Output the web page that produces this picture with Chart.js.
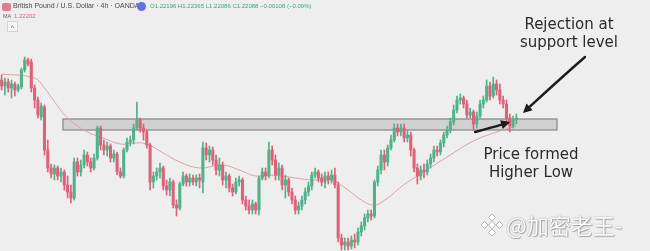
<!DOCTYPE html>
<html>
<head>
<meta charset="utf-8">
<script src="https://cdn.jsdelivr.net/npm/chart.js@4.4.1/dist/chart.umd.min.js"></script>
<style>
  html, body { margin:0; padding:0; background:#eeeeee; }
  #wrap { position:relative; width:650px; height:251px; overflow:hidden; background:#eeeeee; }
  #c { position:absolute; left:0; top:0; }
  .hdr { position:absolute; font-family:"Liberation Sans", Arial, sans-serif; white-space:nowrap; }
  .note { position:absolute; font-family:"DejaVu Sans", Verdana, sans-serif; font-size:15px; color:#2b2b2b; text-align:center; line-height:17.5px; white-space:nowrap; }
  .wm { position:absolute; font-family:"Noto Sans CJK SC", sans-serif; font-size:22px; color:#ffffff; white-space:nowrap;
        text-shadow: 0 0 1.5px rgba(0,0,0,0.45), 1px 1px 1px rgba(0,0,0,0.25); }
</style>
</head>
<body>
<div id="wrap">
  <canvas id="c" width="650" height="251"></canvas>
  <span class="hdr" style="left:2px;top:3px;width:9px;height:8px;background:#e27b8c;border-radius:2px;"></span>
  <div class="hdr" style="left:13px;top:2px;font-size:7px;color:#4a4a4a;">British Pound / U.S. Dollar · 4h · OANDA</div>
  <span class="hdr" style="left:137px;top:2px;width:9px;height:9px;background:#6172de;border-radius:50%;"></span>
  <div class="hdr" style="left:150px;top:3px;font-size:6px;color:#3aa57a;">O1.22196 H1.22365 L1.22086 C1.22088 −0.00108 (−0.09%)</div>
  <div class="hdr" style="left:3px;top:13px;font-size:5.5px;color:#666;">MA</div>
  <div class="hdr" style="left:14px;top:13px;font-size:6px;color:#e0607a;">1.22202</div>
  <div class="hdr" style="left:7px;top:21px;width:9px;height:9px;border:1px solid #d4d4d4;background:#f5f5f5;font-size:7px;color:#555;text-align:center;line-height:11px;">^</div>

  <div class="note" style="left:509px;top:16px;width:120px;">Rejection at<br>support level</div>
  <div class="note" style="left:466px;top:145px;width:130px;line-height:18px;">Price formed<br>Higher Low</div>

  <svg style="position:absolute;left:481px;top:214px;" width="22" height="22" viewBox="0 0 22 22">
    <g fill="#ffffff" stroke="#a8a8a8" stroke-width="0.8">
      <rect x="8.5" y="1" width="5" height="5" transform="rotate(45 11 3.5)"/>
      <rect x="8.5" y="16" width="5" height="5" transform="rotate(45 11 18.5)"/>
      <rect x="1" y="8.5" width="5" height="5" transform="rotate(45 3.5 11)"/>
      <rect x="16" y="8.5" width="5" height="5" transform="rotate(45 18.5 11)"/>
      <rect x="8.5" y="8.5" width="5" height="5" transform="rotate(45 11 11)"/>
    </g>
  </svg>
  <div class="wm" style="left:506px;top:208px;">@加密老王-</div>
</div>
<script>
// ---- Candle data (GBP/USD 4h), one entry per candle ----
const opens  = [1.2260,1.2254,1.2258,1.2252,1.2256,1.2250,1.2253,1.2270,1.2280,1.2278,
                1.2252,1.2240,1.2223,1.2233,1.2190,1.2172,1.2166,1.2172,1.2164,1.2168,
                1.2155,1.2148,1.2142,1.2178,1.2168,1.2175,1.2185,1.2178,1.2172,1.2182,
                1.2212,1.2195,1.2190,1.2194,1.2182,1.2186,1.2168,1.2164,1.2190,1.2198,
                1.2200,1.2212,1.2220,1.2212,1.2208,1.2195,1.2158,1.2164,1.2168,1.2172,
                1.2154,1.2150,1.2158,1.2135,1.2132,1.2156,1.2164,1.2158,1.2162,1.2158,
                1.2162,1.2158,1.2192,1.2185,1.2190,1.2180,1.2170,1.2175,1.2160,1.2164,
                1.2152,1.2148,1.2158,1.2160,1.2140,1.2134,1.2130,1.2136,1.2130,1.2162,
                1.2168,1.2164,1.2190,1.2180,1.2165,1.2172,1.2155,1.2160,1.2148,1.2140,
                1.2130,1.2134,1.2140,1.2148,1.2154,1.2165,1.2168,1.2162,1.2158,1.2164,
                1.2160,1.2165,1.2155,1.2102,1.2095,1.2098,1.2094,1.2100,1.2098,1.2108,
                1.2114,1.2122,1.2126,1.2124,1.2158,1.2170,1.2185,1.2178,1.2192,1.2200,
                1.2212,1.2208,1.2212,1.2202,1.2205,1.2190,1.2172,1.2164,1.2170,1.2168,
                1.2176,1.2182,1.2190,1.2188,1.2197,1.2205,1.2210,1.2218,1.2230,1.2240,
                1.2242,1.2236,1.2225,1.2228,1.2216,1.2224,1.2236,1.2240,1.2254,1.2244,
                1.2256,1.2250,1.2240,1.2236,1.2222,1.2214,1.2220];
const highs  = [1.2265,1.2262,1.2261,1.2260,1.2258,1.2256,1.2272,1.2283,1.2282,1.2281,
                1.2255,1.2243,1.2237,1.2235,1.2200,1.2176,1.2175,1.2174,1.2172,1.2170,
                1.2164,1.2155,1.2182,1.2182,1.2180,1.2190,1.2188,1.2182,1.2186,1.2214,
                1.2214,1.2200,1.2198,1.2196,1.2190,1.2188,1.2172,1.2192,1.2202,1.2204,
                1.2216,1.2238,1.2222,1.2216,1.2210,1.2197,1.2168,1.2172,1.2177,1.2174,
                1.2160,1.2162,1.2160,1.2140,1.2158,1.2168,1.2166,1.2166,1.2165,1.2165,
                1.2166,1.2198,1.2197,1.2194,1.2193,1.2185,1.2182,1.2178,1.2168,1.2166,
                1.2156,1.2162,1.2164,1.2162,1.2144,1.2140,1.2140,1.2138,1.2164,1.2172,
                1.2172,1.2198,1.2194,1.2185,1.2177,1.2175,1.2165,1.2162,1.2152,1.2144,
                1.2138,1.2144,1.2152,1.2158,1.2168,1.2172,1.2170,1.2166,1.2168,1.2168,
                1.2170,1.2172,1.2158,1.2106,1.2102,1.2102,1.2104,1.2106,1.2112,1.2118,
                1.2126,1.2130,1.2130,1.2160,1.2174,1.2190,1.2190,1.2195,1.2205,1.2216,
                1.2216,1.2216,1.2216,1.2210,1.2208,1.2192,1.2176,1.2174,1.2176,1.2180,
                1.2186,1.2194,1.2194,1.2200,1.2208,1.2214,1.2222,1.2235,1.2244,1.2246,
                1.2244,1.2240,1.2232,1.2230,1.2228,1.2240,1.2244,1.2260,1.2258,1.2263,
                1.2260,1.2256,1.2244,1.2240,1.2226,1.2224,1.2226];
const lows   = [1.2250,1.2245,1.2248,1.2242,1.2244,1.2248,1.2251,1.2268,1.2274,1.2248,
                1.2232,1.2222,1.2220,1.2185,1.2168,1.2162,1.2160,1.2160,1.2158,1.2150,
                1.2142,1.2137,1.2140,1.2164,1.2164,1.2172,1.2174,1.2168,1.2170,1.2180,
                1.2190,1.2185,1.2184,1.2178,1.2178,1.2165,1.2162,1.2162,1.2188,1.2194,
                1.2196,1.2210,1.2208,1.2200,1.2192,1.2150,1.2152,1.2160,1.2162,1.2150,
                1.2145,1.2144,1.2132,1.2124,1.2130,1.2154,1.2154,1.2154,1.2155,1.2154,
                1.2152,1.2147,1.2180,1.2178,1.2175,1.2165,1.2164,1.2155,1.2152,1.2148,
                1.2144,1.2146,1.2154,1.2136,1.2130,1.2126,1.2126,1.2126,1.2125,1.2160,
                1.2160,1.2162,1.2175,1.2160,1.2160,1.2150,1.2142,1.2144,1.2136,1.2126,
                1.2126,1.2130,1.2136,1.2144,1.2150,1.2162,1.2158,1.2154,1.2152,1.2156,
                1.2157,1.2152,1.2098,1.2090,1.2090,1.2090,1.2091,1.2092,1.2095,1.2104,
                1.2110,1.2118,1.2120,1.2122,1.2154,1.2166,1.2170,1.2174,1.2190,1.2198,
                1.2204,1.2204,1.2198,1.2198,1.2184,1.2168,1.2156,1.2160,1.2162,1.2165,
                1.2172,1.2178,1.2184,1.2185,1.2193,1.2202,1.2207,1.2215,1.2227,1.2236,
                1.2232,1.2222,1.2222,1.2210,1.2212,1.2222,1.2232,1.2238,1.2240,1.2242,
                1.2245,1.2236,1.2232,1.2218,1.2208,1.2212,1.2216];
const closes = [1.2254,1.2258,1.2252,1.2256,1.2250,1.2254,1.2270,1.2280,1.2276,1.2252,
                1.2240,1.2225,1.2234,1.2190,1.2172,1.2166,1.2172,1.2164,1.2168,1.2155,
                1.2148,1.2142,1.2178,1.2168,1.2175,1.2185,1.2178,1.2172,1.2182,1.2212,
                1.2195,1.2190,1.2194,1.2182,1.2186,1.2168,1.2164,1.2190,1.2198,1.2200,
                1.2212,1.2220,1.2212,1.2208,1.2195,1.2158,1.2164,1.2168,1.2172,1.2154,
                1.2150,1.2158,1.2135,1.2132,1.2156,1.2164,1.2158,1.2162,1.2158,1.2162,
                1.2160,1.2192,1.2185,1.2190,1.2180,1.2170,1.2175,1.2160,1.2164,1.2152,
                1.2148,1.2158,1.2160,1.2140,1.2134,1.2130,1.2136,1.2130,1.2162,1.2168,
                1.2164,1.2190,1.2180,1.2165,1.2172,1.2155,1.2160,1.2148,1.2140,1.2130,
                1.2134,1.2140,1.2148,1.2154,1.2165,1.2168,1.2162,1.2158,1.2164,1.2160,
                1.2165,1.2155,1.2102,1.2095,1.2098,1.2094,1.2100,1.2098,1.2108,1.2114,
                1.2122,1.2126,1.2124,1.2158,1.2170,1.2185,1.2178,1.2192,1.2200,1.2212,
                1.2208,1.2212,1.2202,1.2205,1.2190,1.2172,1.2164,1.2170,1.2168,1.2176,
                1.2182,1.2190,1.2188,1.2197,1.2205,1.2210,1.2218,1.2230,1.2240,1.2242,
                1.2236,1.2225,1.2228,1.2216,1.2224,1.2236,1.2240,1.2254,1.2244,1.2256,
                1.2250,1.2240,1.2236,1.2222,1.2214,1.2220,1.2222];

// ---- Moving average (read at selected candles) ----
const maIndex  = [0,10,13,15,20,26,30,36,40,44,49,54,60,67,72,77,81,87,94,100,105,109,113,117,121,125,135,143,150,156];
const maValues = [1.2266,1.2262,1.2252,1.2243,1.2222,1.2208,1.2203,1.2196,1.2197,1.2196,1.2187,1.2178,1.2172,1.2175,1.2170,1.2164,1.2165,1.2163,1.2160,1.2160,1.2150,1.2140,1.2135,1.2142,1.2153,1.2162,1.2183,1.2199,1.2208,1.2214];

// ---- Support zone (candle index range, price range) ----
const zoneStart = 18.6, zoneEnd = 168.3;
const zoneTop = 1.2221, zoneBottom = 1.2210;

// ---- Annotation arrows in data space [index, price] ----
const arrowRejection = { from:[176.8,1.2283], ctrl:[169.5,1.2262], to:[158.0,1.2227] };
const arrowHigherLow = { from:[143.5,1.2208], ctrl:[149.0,1.2213], to:[154.1,1.2218] };

const GREEN = '#4fb28a', RED = '#df6079';
const colors = opens.map((o,i) => closes[i] >= o ? GREEN : RED);
const wickData = opens.map((o,i) => ({x:i, y:[lows[i], highs[i]]}));
const bodyData = opens.map((o,i) => {
  let a = o, b = closes[i];
  if (Math.abs(a-b) < 0.00008) { b = a + (b >= a ? 0.00008 : -0.00008); }
  return {x:i, y:[a, b]};
});
const maData = maIndex.map((x,k) => ({x, y:maValues[k]}));

const bgPlugin = {
  id:'bg',
  beforeDraw(chart){
    const ctx = chart.ctx;
    ctx.save(); ctx.fillStyle = '#eeeeee';
    ctx.fillRect(0,0,chart.width,chart.height); ctx.restore();
  }
};
const zonePlugin = {
  id:'zone',
  beforeDatasetsDraw(chart){
    const {ctx, scales:{x,y}} = chart;
    const x1 = x.getPixelForValue(zoneStart), x2 = x.getPixelForValue(zoneEnd);
    const y1 = y.getPixelForValue(zoneTop), y2 = y.getPixelForValue(zoneBottom);
    ctx.save();
    ctx.fillStyle = '#d1d1d1';
    ctx.fillRect(x1, y1, x2-x1, y2-y1);
    ctx.strokeStyle = '#8c8c8c'; ctx.lineWidth = 1.3;
    ctx.strokeRect(x1, y1, x2-x1, y2-y1);
    ctx.restore();
  }
};
function drawArrow(ctx, x, y, a){
  const p = k => [x.getPixelForValue(a[k][0]), y.getPixelForValue(a[k][1])];
  const f = p('from'), c = p('ctrl'), t = p('to');
  const ang = Math.atan2(t[1]-c[1], t[0]-c[0]);
  const L = 9, W = 4.5;
  const bx = t[0] - L*Math.cos(ang), by = t[1] - L*Math.sin(ang);
  ctx.beginPath();
  ctx.moveTo(f[0], f[1]);
  ctx.quadraticCurveTo(c[0], c[1], bx, by);
  ctx.stroke();
  ctx.beginPath();
  ctx.moveTo(t[0], t[1]);
  ctx.lineTo(bx + W*Math.sin(ang), by - W*Math.cos(ang));
  ctx.lineTo(bx - W*Math.sin(ang), by + W*Math.cos(ang));
  ctx.closePath(); ctx.fill();
}
const arrowPlugin = {
  id:'arrows',
  afterDatasetsDraw(chart){
    const {ctx, scales:{x,y}} = chart;
    ctx.save();
    ctx.strokeStyle = '#1c1c1c'; ctx.fillStyle = '#1c1c1c';
    ctx.lineWidth = 2.4; ctx.lineCap = 'round';
    drawArrow(ctx, x, y, arrowRejection);
    drawArrow(ctx, x, y, arrowHigherLow);
    ctx.restore();
  }
};

new Chart(document.getElementById('c'), {
  type:'bar',
  data:{
    datasets:[
      { type:'line', data:maData, borderColor:'#dba3a8', borderWidth:1, pointRadius:0, tension:0.4, order:3, fill:false },
      { type:'bar', data:wickData, backgroundColor:colors, borderWidth:0, barThickness:1, grouped:false, order:2 },
      { type:'bar', data:bodyData, backgroundColor:colors, borderWidth:0, barThickness:2.4, grouped:false, order:1 }
    ]
  },
  options:{
    responsive:false, animation:false, devicePixelRatio:1,
    layout:{ padding:0 },
    plugins:{ legend:{display:false}, tooltip:{enabled:false} },
    scales:{
      x:{ type:'linear', min:-0.485, max:196.5, offset:false, display:false },
      y:{ min:1.2089, max:1.2340, display:false }
    }
  },
  plugins:[bgPlugin, zonePlugin, arrowPlugin]
});
</script>
</body>
</html>
